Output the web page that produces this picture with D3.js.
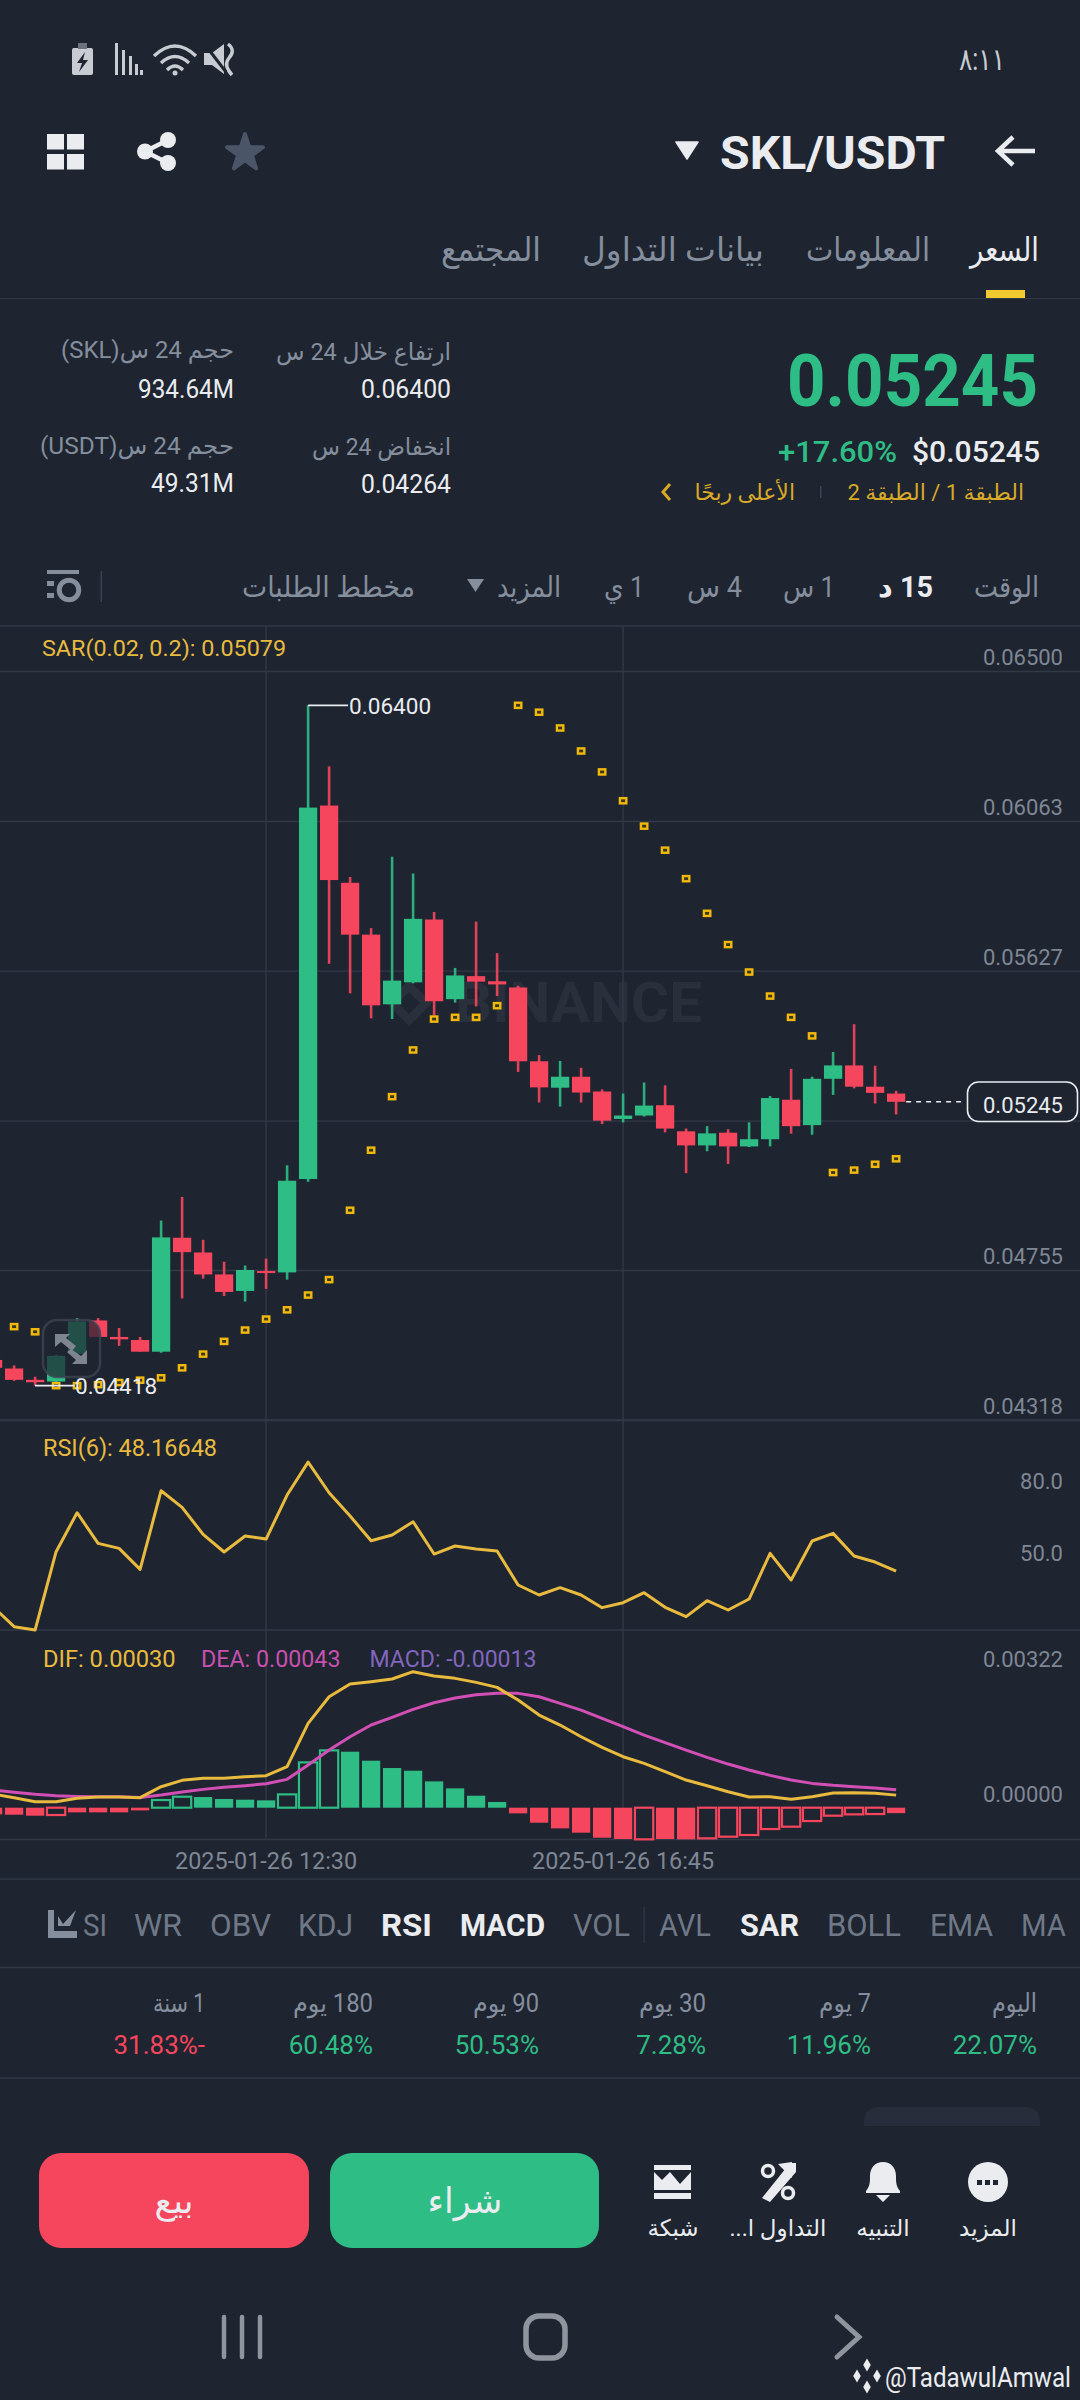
<!DOCTYPE html>
<html>
<head>
<meta charset="utf-8">
<script src="https://cdn.jsdelivr.net/npm/d3@7"></script>
<style>
  html, body { margin: 0; padding: 0; background: #1e2430; }
  svg { display: block; }
  text { font-family: Roboto, "DejaVu Sans", sans-serif; }
</style>
</head>
<body>
<div id="chart"></div>
<script>
// candle values
const candleOpen = [0.04493,0.04468,0.04435,0.04430,0.04511,0.04608,0.04560,0.04551,0.04517,0.04849,0.04806,0.04742,0.04694,0.04752,0.04748,0.05020,0.06108,0.05883,0.05732,0.05529,0.05593,0.05776,0.05544,0.05611,0.05596,0.05578,0.05363,0.05286,0.05318,0.05275,0.05195,0.05205,0.05235,0.05159,0.05118,0.05155,0.05115,0.05136,0.05251,0.05177,0.05312,0.05351,0.05289,0.05269];
const candleClose = [0.04470,0.04435,0.04428,0.04505,0.04605,0.04560,0.04553,0.04517,0.04850,0.04807,0.04742,0.04691,0.04755,0.04746,0.05015,0.06102,0.05891,0.05732,0.05526,0.05598,0.05778,0.05538,0.05613,0.05595,0.05587,0.05363,0.05287,0.05318,0.05272,0.05190,0.05205,0.05234,0.05167,0.05118,0.05153,0.05115,0.05136,0.05256,0.05174,0.05312,0.05351,0.05289,0.05271,0.05245];
const candleHigh = [0.04493,0.04477,0.04444,0.04508,0.04615,0.04615,0.04586,0.04560,0.04899,0.04968,0.04843,0.04779,0.04768,0.04788,0.05060,0.06400,0.06222,0.05900,0.05751,0.05959,0.05910,0.05798,0.05635,0.05770,0.05678,0.05583,0.05381,0.05364,0.05344,0.05281,0.05269,0.05301,0.05293,0.05167,0.05174,0.05165,0.05185,0.05262,0.05341,0.05318,0.05390,0.05471,0.05350,0.05277];
const candleLow = [0.04470,0.04432,0.04418,0.04427,0.04508,0.04560,0.04534,0.04517,0.04514,0.04672,0.04730,0.04679,0.04663,0.04700,0.04727,0.05012,0.05647,0.05561,0.05488,0.05486,0.05590,0.05497,0.05534,0.05523,0.05553,0.05332,0.05243,0.05231,0.05243,0.05180,0.05185,0.05202,0.05156,0.05037,0.05101,0.05064,0.05113,0.05115,0.05152,0.05149,0.05265,0.05284,0.05240,0.05208];
const sarValues = [null,0.04590,0.04575,0.04418,0.04418,0.04421,0.04427,0.04434,0.04441,0.04470,0.04510,0.04547,0.04580,0.04612,0.04639,0.04682,0.04727,0.04929,0.05104,0.05260,0.05396,0.05486,0.05491,0.05491,0.05525,0.06400,0.06380,0.06334,0.06267,0.06206,0.06122,0.06048,0.05978,0.05895,0.05794,0.05703,0.05623,0.05553,0.05491,0.05437,0.05039,0.05046,0.05063,0.05079];
const rsiValues = [33.26,24.90,23.50,56.28,72.59,59.76,57.67,48.88,81.80,74.83,63.53,56.14,62.83,61.58,79.99,93.79,80.96,71.20,60.88,63.25,68.83,55.30,58.65,57.39,56.56,42.33,38.15,41.21,38.15,32.85,34.94,39.12,32.98,29.08,35.77,31.87,36.47,55.58,44.42,60.74,63.95,54.46,51.95,48.17];
const difValues = [0.000326,0.000239,0.000143,0.000143,0.000223,0.000254,0.000254,0.000239,0.000501,0.000652,0.000700,0.000700,0.000739,0.000763,0.000978,0.002011,0.002647,0.002949,0.003005,0.003069,0.003244,0.003140,0.003085,0.002989,0.002870,0.002568,0.002210,0.001972,0.001693,0.001439,0.001216,0.001057,0.000859,0.000660,0.000525,0.000382,0.000254,0.000262,0.000199,0.000262,0.000350,0.000358,0.000342,0.00030];
const deaValues = [0.000421,0.000366,0.000318,0.000286,0.000270,0.000262,0.000262,0.000246,0.000302,0.000374,0.000437,0.000485,0.000525,0.000572,0.000676,0.001018,0.001375,0.001693,0.001972,0.002154,0.002345,0.002504,0.002616,0.002695,0.002727,0.002727,0.002647,0.002488,0.002329,0.002131,0.001932,0.001733,0.001550,0.001375,0.001200,0.001041,0.000898,0.000771,0.000660,0.000580,0.000533,0.000501,0.000469,0.00043];
const macdValues = [-0.000159,-0.000167,-0.000191,-0.000175,-0.000111,-0.000111,-0.000111,-0.000064,0.000183,0.000262,0.000254,0.000207,0.000191,0.000175,0.000318,0.001081,0.001367,0.001336,0.001121,0.000946,0.000882,0.000628,0.000461,0.000286,0.000135,-0.000135,-0.000358,-0.000493,-0.000596,-0.000716,-0.000747,-0.000755,-0.000747,-0.000755,-0.000731,-0.000692,-0.000652,-0.000509,-0.000453,-0.000318,-0.000191,-0.000159,-0.000151,-0.00013];
const macdHollow = [3,8,9,14,15,16,31,34,35,36,37,38,39,40,41,42];

const priceTicks = [0.065,0.06063,0.05627,0.0519,0.04755,0.04318];
const rsiTicks = [80,50];
const macdTicks = [0.00322,0];
const dateIndex = [13,30];
const dateText = ["2025-01-26 12:30","2025-01-26 16:45"];
const lastPrice = 0.05245;
const highPoint = [15,0.064];
const lowPoint = [2,0.04418];

const tabNames = ["السعر","المعلومات","بيانات التداول","المجتمع"];
const intervalNames = ["الوقت","15 د","1 س","4 س","1 ي","المزيد","مخطط الطلبات"];
const indicatorNames = ["SI","WR","OBV","KDJ","RSI","MACD","VOL","AVL","SAR","BOLL","EMA","MA"];
const activeIndicators = ["RSI","MACD","SAR"];
const periodNames = ["اليوم","7 يوم","30 يوم","90 يوم","180 يوم","1 سنة"];
const periodValues = ["22.07%","11.96%","7.28%","50.53%","60.48%","31.83%-"];
const actionNames = ["المزيد","التنبيه","التداول ا...","شبكة"];

const green = "#2ebd85", red = "#f6465d", bg = "#1e2430", grid = "#323946", grey = "#848e9c", yellow = "#e8bb3f";

const svg = d3.select("#chart").append("svg").attr("width", 1080).attr("height", 2400);
svg.append("rect").attr("width", 1080).attr("height", 2400).attr("fill", bg);

function txt(g, x, y, s, o = {}) {
    const t = g.append("text").attr("x", x).attr("y", y).text(s)
        .attr("font-size", o.size || 24).attr("fill", o.fill || "#eaecef")
        .attr("font-weight", o.weight || 400).attr("dominant-baseline", "central")
        .attr("text-anchor", o.anchor || "start");
    if (o.rtl) t.attr("direction", "rtl");
    if (o.len) t.attr("textLength", o.len).attr("lengthAdjust", "spacingAndGlyphs");
    return t;
}

// scales
const x = d3.scaleLinear().domain([0, 43]).range([-6.9, 896.1]);
const bodyW = (x(1) - x(0)) * 0.87;
const yPrice = d3.scaleLinear().domain([0.04318, 0.065]).range([1420, 671]);
const yRsi = d3.scaleLinear().domain([23.5, 111.4]).range([1630, 1420]);
const yMacd = d3.scaleLinear().domain([0, 0.00322]).range([1807.7, 1672.7]);

const chrome = svg.append("g");

// status bar
txt(chrome, 1005, 59, "٨:١١", { anchor: "end", size: 31, fill: "#c9ccd1", len: 46 });
const st = chrome.append("g").attr("fill", "#c8ccd2").attr("stroke", "none");
st.append("rect").attr("x", 72).attr("y", 48).attr("width", 21).attr("height", 27).attr("rx", 2);
st.append("rect").attr("x", 78).attr("y", 43).attr("width", 9).attr("height", 6).attr("fill", "#6b7280");
st.append("path").attr("d", "M85 52 L77 63 H82 L79 72 L88 60 H83 Z").attr("fill", bg);
[[115,43],[122,50],[129,56],[135,64],[140,70]].forEach(b => st.append("rect").attr("x", b[0]).attr("y", b[1]).attr("width", 3).attr("height", 75 - b[1]));
const wifi = chrome.append("g").attr("fill", "none").attr("stroke", "#c8ccd2").attr("stroke-width", 3.4);
["M154 56 Q175 36 196 56", "M161 63 Q175 50 189 63", "M167 70 Q175 62 183 70"].forEach(d => wifi.append("path").attr("d", d));
st.append("circle").attr("cx", 175).attr("cy", 73).attr("r", 2.5);
st.append("path").attr("d", "M204 53 H212 L224 44 V74 L212 65 H204 Z");
chrome.append("path").attr("d", "M228 44 Q236 50 229 58 Q223 65 232 75").attr("fill", "none").attr("stroke", "#c8ccd2").attr("stroke-width", 3.4);
chrome.append("line").attr("x1", 206).attr("y1", 46).attr("x2", 226).attr("y2", 72).attr("stroke", bg).attr("stroke-width", 3);

// header
const head = chrome.append("g").attr("fill", "#eaecef");
[[47,134],[67,134],[47,154],[67,154]].forEach(p => head.append("rect").attr("x", p[0]).attr("y", p[1]).attr("width", 17).attr("height", 15.5));
chrome.append("path").attr("d", "M168 140 L145 151.5 L168 163").attr("fill", "none").attr("stroke", "#eaecef").attr("stroke-width", 4.5);
[[168,140],[145,151.5],[168,163]].forEach(p => head.append("circle").attr("cx", p[0]).attr("cy", p[1]).attr("r", 8));
chrome.append("path").attr("d", d3.symbol(d3.symbolStar, 400)()).attr("transform", "translate(245,153)")
    .attr("fill", "#4a5568").attr("stroke", "#4a5568").attr("stroke-width", 4).attr("stroke-linejoin", "round");
chrome.append("path").attr("d", "M676 142 H698 L687 159 Z").attr("fill", "#eaecef").attr("stroke", "#eaecef").attr("stroke-width", 1.5).attr("stroke-linejoin", "round");
txt(chrome, 945, 153, "SKL/USDT", { anchor: "end", size: 46, weight: 700, len: 225 });
chrome.append("path").attr("d", "M1035 151 H998 M1013 137 L998 151 L1013 165").attr("fill", "none").attr("stroke", "#eaecef").attr("stroke-width", 4.5);

// tabs
const tabRight = [1039, 930, 764, 541], tabWidth = [69, 124, 182, 100];
tabNames.forEach((t, i) => txt(chrome, tabRight[i], 249, t, { rtl: true, size: 33, fill: i ? grey : "#eaecef", len: tabWidth[i] }));
chrome.append("rect").attr("x", 986).attr("y", 290).attr("width", 39).attr("height", 8).attr("fill", "#f0c930");
chrome.append("line").attr("x1", 0).attr("x2", 1080).attr("y1", 298.5).attr("y2", 298.5).attr("stroke", grid);

// price block
txt(chrome, 1038, 381, "0.05245", { anchor: "end", size: 73, weight: 700, fill: green, len: 251 });
txt(chrome, 897, 452, "+17.60%", { anchor: "end", size: 29, fill: green, weight: 500, len: 119 });
txt(chrome, 1040, 452, "$0.05245", { anchor: "end", size: 29, weight: 500, len: 128 });
txt(chrome, 1024, 492, "الطبقة 1 / الطبقة 2", { rtl: true, size: 22, fill: "#d9a928" });
txt(chrome, 795, 492, "الأعلى ربحًا", { rtl: true, size: 22, fill: "#d9a928" });
chrome.append("rect").attr("x", 820).attr("y", 486).attr("width", 1.5).attr("height", 12).attr("fill", "#3a4250");
chrome.append("path").attr("d", "M670 484 L663 492 L670 500").attr("fill", "none").attr("stroke", "#d9a928").attr("stroke-width", 3);

txt(chrome, 451, 352, "ارتفاع خلال 24 س", { rtl: true, size: 24, fill: grey, len: 175 });
txt(chrome, 451, 389, "0.06400", { anchor: "end", size: 25, len: 90 });
txt(chrome, 451, 447, "انخفاض 24 س", { rtl: true, size: 24, fill: grey, len: 139 });
txt(chrome, 451, 484, "0.04264", { anchor: "end", size: 25, len: 90 });
txt(chrome, 234, 350, "حجم 24 س(SKL)", { rtl: true, size: 24, fill: grey, len: 173 });
txt(chrome, 234, 389, "934.64M", { anchor: "end", size: 25, len: 96 });
txt(chrome, 234, 446, "حجم 24 س(USDT)", { rtl: true, size: 24, fill: grey, len: 194 });
txt(chrome, 234, 483, "49.31M", { anchor: "end", size: 25, len: 83 });

// interval bar
const intervalRight = [1039, 933, 835, 742, 644, 561, 415], intervalWidth = [65, 55, 52, 55, 40, 64, 173];
intervalNames.forEach((t, i) => txt(chrome, intervalRight[i], 587, t, { rtl: true, size: 29, fill: i === 1 ? "#eaecef" : grey, weight: i === 1 ? 700 : 400, len: intervalWidth[i] }));
chrome.append("path").attr("d", "M467 579 H484 L475.5 592 Z").attr("fill", grey);
chrome.append("rect").attr("x", 100.5).attr("y", 571).attr("width", 1.5).attr("height", 31).attr("fill", "#3a4250");
const ico = chrome.append("g").attr("fill", grey);
ico.append("rect").attr("x", 47).attr("y", 570).attr("width", 32).attr("height", 4);
ico.append("rect").attr("x", 47).attr("y", 581).attr("width", 7).attr("height", 5);
ico.append("rect").attr("x", 47).attr("y", 593).attr("width", 7).attr("height", 5);
ico.append("path").attr("d", d3.symbol(d3.symbolCircle, 300)()).attr("transform", "translate(69,590)").attr("fill", "none").attr("stroke", grey).attr("stroke-width", 5);

// watermark
const wm = svg.append("g").attr("fill", "#292f3b");
txt(wm, 455, 1003, "BINANCE", { size: 56, weight: 700, fill: "#292f3b", len: 247 });
wm.append("path").attr("d", "M409 980 L432 1003 L409 1026 L386 1003 Z M409 992 L398 1003 L409 1014 L420 1003 Z").attr("fill-rule", "evenodd");

// axes and grid
function paneAxis(scale, ticks, fmt, lineSize) {
    const a = d3.axisLeft(scale).tickValues(ticks).tickFormat(d3.format(fmt)).tickSize(lineSize);
    const g = svg.append("g").attr("transform", "translate(1080,0)").call(a);
    g.select(".domain").remove();
    g.selectAll(".tick line").attr("stroke", grid).attr("stroke-width", 1.4);
    g.selectAll(".tick text").attr("x", -17).attr("text-anchor", "end").attr("dy", "0").attr("y", -14)
        .attr("dominant-baseline", "central").attr("fill", "#7f8794").attr("font-size", 22)
        .attr("font-family", "Roboto, sans-serif");
    return g;
}
paneAxis(yPrice, priceTicks, ".5f", 1080);
paneAxis(yRsi, rsiTicks, ".1f", 0);
paneAxis(yMacd, macdTicks, ".5f", 0);

[626, 1420, 1630, 1839.5, 1879, 1967.5, 2078].forEach(v => chrome.append("line")
    .attr("x1", 0).attr("x2", 1080).attr("y1", v).attr("y2", v).attr("stroke", grid).attr("stroke-width", 1.4));
svg.selectAll(".vgrid").data(dateIndex).enter().append("line")
    .attr("x1", d => x(d)).attr("x2", d => x(d)).attr("y1", 626).attr("y2", 1839.5)
    .attr("stroke", grid).attr("stroke-width", 1.4);
dateText.forEach((d, i) => txt(svg, x(dateIndex[i]), 1861, d, { anchor: "middle", size: 23, fill: "#7f8794", len: 182 }));

// candles
const idx = d3.range(candleOpen.length);
const up = i => candleClose[i] >= candleOpen[i];
const candles = svg.append("g");
candles.selectAll(".wick").data(idx).enter().append("line")
    .attr("x1", i => x(i)).attr("x2", i => x(i))
    .attr("y1", i => yPrice(candleHigh[i])).attr("y2", i => yPrice(candleLow[i]))
    .attr("stroke", i => up(i) ? green : red).attr("stroke-width", 2.6).attr("stroke-opacity", 0.9);
candles.selectAll(".body").data(idx).enter().append("rect")
    .attr("x", i => x(i) - bodyW / 2).attr("width", bodyW)
    .attr("y", i => yPrice(Math.max(candleOpen[i], candleClose[i])))
    .attr("height", i => Math.max(1.5, Math.abs(yPrice(candleOpen[i]) - yPrice(candleClose[i]))))
    .attr("fill", i => up(i) ? green : red);

// SAR dots
svg.selectAll(".sar").data(idx.filter(i => sarValues[i] !== null)).enter().append("rect")
    .attr("x", i => x(i) - 3.2).attr("y", i => yPrice(sarValues[i]) - 2.6)
    .attr("width", 6.4).attr("height", 5.2)
    .attr("fill", "#3a3520").attr("stroke", "#f0b90b").attr("stroke-width", 2.4);

// high / low markers
function marker(point, len) {
    const px = x(point[0]), py = yPrice(point[1]);
    svg.append("line").attr("x1", px).attr("x2", px + len).attr("y1", py).attr("y2", py).attr("stroke", "#eaecef").attr("stroke-width", 1.6);
    txt(svg, px + len + 1, py + 1, d3.format(".5f")(point[1]), { size: 22, len: 82 });
}
marker(highPoint, 40);
marker(lowPoint, 39);

// expand button sits over the candles
const btn = svg.append("g");
btn.append("rect").attr("x", 43).attr("y", 1320).attr("width", 57).attr("height", 57).attr("rx", 14)
    .attr("fill", bg).attr("fill-opacity", 0.72).attr("stroke", "#3c4452").attr("stroke-opacity", 0.8).attr("stroke-width", 2.5);
btn.append("path").attr("d", "M55 1334 H70 L66 1338 L76 1346 L72 1351 L61 1342 L55 1347 Z M87 1364 H72 L76 1360 L67 1352 L71 1349 L81 1356 L87 1350 Z")
    .attr("fill", "#7d8591");

// current price tag
svg.append("line").attr("x1", x(43) + 10).attr("x2", 963.5).attr("y1", yPrice(lastPrice)).attr("y2", yPrice(lastPrice))
    .attr("stroke", "#eaecef").attr("stroke-width", 1.5).attr("stroke-dasharray", "5 5");
svg.append("rect").attr("x", 967.5).attr("y", 1082).attr("width", 110).attr("height", 39.5).attr("rx", 11)
    .attr("fill", bg).attr("stroke", "#eaecef").attr("stroke-width", 1.6);
txt(svg, 1063, 1105, d3.format(".5f")(lastPrice), { anchor: "end", size: 22 });

// indicator titles
txt(svg, 42, 648, "SAR(0.02, 0.2): 0.05079", { size: 22, fill: yellow, len: 244 });
txt(svg, 43, 1448, "RSI(6): 48.16648", { size: 23, fill: yellow, len: 174 });
txt(svg, 43, 1659, "DIF: 0.00030", { size: 23, fill: yellow, len: 132.6 });
txt(svg, 201, 1659, "DEA: 0.00043", { size: 23, fill: "#c850ae", len: 139.5 });
txt(svg, 369.5, 1659, "MACD: -0.00013", { size: 23, fill: "#8166bd", len: 167 });

// RSI and MACD panes
const lineStyle = (sel, color) => sel.attr("fill", "none").attr("stroke", color).attr("stroke-width", 3).attr("stroke-linejoin", "round");
lineStyle(svg.append("path").datum(rsiValues).attr("d", d3.line().x((d, i) => x(i)).y(d => yRsi(d))), yellow);

const hollow = new Set(macdHollow);
svg.selectAll(".hist").data(idx).enter().append("rect")
    .attr("x", i => x(i) - bodyW / 2).attr("width", bodyW)
    .attr("y", i => yMacd(Math.max(0, macdValues[i])))
    .attr("height", i => Math.abs(yMacd(macdValues[i]) - yMacd(0)))
    .attr("fill", i => hollow.has(i) ? "none" : (macdValues[i] >= 0 ? green : red))
    .attr("stroke", i => hollow.has(i) ? (macdValues[i] >= 0 ? green : red) : "none")
    .attr("stroke-width", 2.2);
lineStyle(svg.append("path").datum(deaValues).attr("d", d3.line().x((d, i) => x(i)).y(d => yMacd(d))), "#d24fb6");
lineStyle(svg.append("path").datum(difValues).attr("d", d3.line().x((d, i) => x(i)).y(d => yMacd(d))), yellow);

// indicator tab row
const indicatorLeft = [83,134,210,298,381,460,573,659,740,827,930,1021], indicatorWidth = [24,48,61,55,51,85,57,52,59,74,63,45];
indicatorNames.forEach((t, i) => {
    const on = activeIndicators.includes(t);
    txt(chrome, indicatorLeft[i], 1925, t, { size: 31, fill: on ? "#eaecef" : "#6f7886", weight: on ? 700 : 400, len: indicatorWidth[i] });
});
chrome.append("rect").attr("x", 643.5).attr("y", 1907).attr("width", 1.2).attr("height", 36).attr("fill", "#323946");
chrome.append("path").attr("d", "M48 1910 H54 V1931 H77 V1938 H48 Z M58 1916 L63 1924 L76 1910 L70 1926 H58 Z").attr("fill", "#848e9c");

// period returns
const periodRight = [1037, 871, 706, 539, 373, 205], periodWidth = [45, 52, 67, 66, 80, 52];
periodNames.forEach((p, i) => txt(chrome, periodRight[i], 2003, p, { rtl: true, size: 26, fill: grey, len: periodWidth[i] }));
periodValues.forEach((p, i) => txt(chrome, periodRight[i], 2045, p, { anchor: "end", size: 26, fill: p.endsWith("-") ? red : green }));

// bottom bar
chrome.append("path").attr("d", "M864 2126 V2122 Q864 2107 880 2107 H1024 Q1040 2107 1040 2122 V2126 Z").attr("fill", "#272d3a");
chrome.append("rect").attr("x", 39).attr("y", 2153).attr("width", 270).attr("height", 95).attr("rx", 22).attr("fill", red);
chrome.append("rect").attr("x", 330).attr("y", 2153).attr("width", 269).attr("height", 95).attr("rx", 22).attr("fill", green);
txt(chrome, 174, 2201, "بيع", { anchor: "middle", size: 35, rtl: true });
txt(chrome, 465, 2201, "شراء", { anchor: "middle", size: 35, rtl: true });
const actionCenter = [988, 883, 778, 673];
actionNames.forEach((a, i) => txt(chrome, actionCenter[i], 2228, a, { anchor: "middle", size: 23, rtl: true }));

const acts = chrome.append("g").attr("fill", "#eaecef");
acts.append("circle").attr("cx", 988).attr("cy", 2182).attr("r", 20);
[977, 985, 993].forEach(v => acts.append("rect").attr("x", v).attr("y", 2180).attr("width", 5).attr("height", 5).attr("fill", bg));
acts.append("path").attr("d", "M866 2191 C870 2186 870 2182 870 2176 C870 2168 875 2162 883 2162 C891 2162 896 2168 896 2176 C896 2182 896 2186 900 2191 V2193 H866 Z M876 2195 H890 L883 2202 Z");
acts.append("path").attr("d", "M762 2198 L790 2163 H796 V2172 L770 2202 Z M792 2162 V2178 L778 2164 Z");
acts.append("circle").attr("cx", 768).attr("cy", 2171).attr("r", 5.5).attr("fill", "none").attr("stroke", "#eaecef").attr("stroke-width", 3.5);
acts.append("circle").attr("cx", 788).attr("cy", 2193).attr("r", 5.5).attr("fill", "none").attr("stroke", "#eaecef").attr("stroke-width", 3.5);
acts.append("rect").attr("x", 654).attr("y", 2165).attr("width", 37).attr("height", 5);
acts.append("path").attr("d", "M654 2172 L662 2180 L670 2172 L680 2184 L691 2172 V2190 H654 Z");
acts.append("rect").attr("x", 654).attr("y", 2193).attr("width", 37).attr("height", 6);

// navigation
const nav = chrome.append("g").attr("stroke", "#90959d").attr("fill", "none").attr("stroke-linecap", "round");
[224, 242, 260].forEach(v => nav.append("line").attr("x1", v).attr("x2", v).attr("y1", 2317).attr("y2", 2357).attr("stroke-width", 4.5));
nav.append("rect").attr("x", 526).attr("y", 2316).attr("width", 39).attr("height", 42).attr("rx", 13).attr("stroke-width", 5.5);
nav.append("path").attr("d", "M837 2317 L859 2337 L837 2357").attr("stroke-width", 5);

// channel tag
txt(svg, 885, 2377, "@TadawulAmwal", { size: 28, len: 186 });
const tag = svg.append("g").attr("fill", "#eaecef");
[[867,2365],[857,2376],[877,2376],[867,2387]].forEach(p => tag.append("path").attr("d", d3.symbol(d3.symbolDiamond, 50)()).attr("transform", `translate(${p[0]},${p[1]})`));
</script>
</body>
</html>
